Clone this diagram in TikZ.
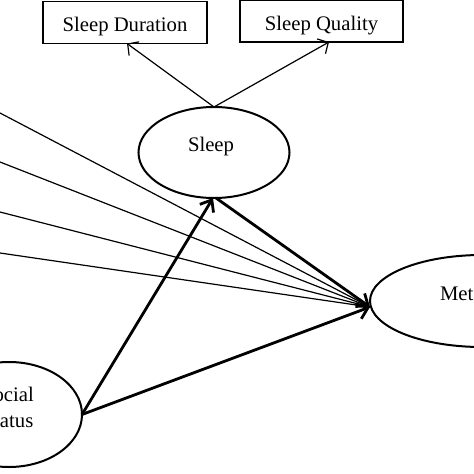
\documentclass[tikz,border=0pt]{standalone}
\usepackage{fontspec}
\setmainfont{Liberation Serif}
\usetikzlibrary{arrows.meta,calc,shapes.geometric}
\begin{document}
\begin{tikzpicture}[x=1pt,y=-1pt,
  txt/.style={font=\fontsize{20.7}{26}\selectfont, inner sep=0pt, anchor=base},
  obs/.style={draw, line width=1.5pt, minimum width=164pt, minimum height=42pt, inner sep=0pt, outer sep=0pt, text depth=0pt, font=\fontsize{20.7}{26}\selectfont},
  lat/.style={draw, ellipse, line width=2pt, inner sep=0pt, outer sep=0pt},
  load/.style={line width=1.2pt, -{Straight Barb[length=8pt,width=17pt,line width=1.2pt]}},
  thin/.style={line width=1.2pt},
  thick path/.style={line width=2.8pt, -{Straight Barb[length=10pt,width=16pt,line width=2.8pt]}}
]
\useasboundingbox (0,0) rectangle (474,474);
\clip (0,0) rectangle (474,474);
\fill[white] (0,0) rectangle (474,474);

% observed indicators
\node[obs, text height=17pt] (dur) at (125,22.5) {Sleep Duration};
\node[obs, minimum width=163pt, text height=18pt] (qual) at (321.5,21) {Sleep Quality};

% latent variables
\node[lat, minimum width=151pt, minimum height=91pt] (sleep) at (214,152.5) {};
\node[txt] (sleeplab) at (211,151.7) {Sleep};
\node[lat, minimum width=224pt, minimum height=92pt] (met) at (482,301) {};
\node[txt] (metlab) at (482,300) {Metabolic};
\node[lat, minimum width=146pt, minimum height=105pt] (soc) at (9,414.5) {};
\node[txt] (soclab1) at (8,401) {Social};
\node[txt] (soclab2) at (8,427) {Status};

% tips
\coordinate (mettip) at ($(met.west)+(0,6)$);
\coordinate (l1) at (0,113);
\coordinate (l2) at (0,162);
\coordinate (l3) at (0,212);
\coordinate (l4) at (0,253);

% thin paths from left
\foreach \c in {l1,l2,l3,l4} \draw[thin] (\c) -- (mettip);

% loadings
\draw[load] (sleep.north) -- ($(dur.south)+(2,0)$);
\draw[load] (sleep.north) -- ($(qual.south)+(7.5,0)$);

% structural paths
\draw[thick path] (soc.east) -- ($(sleep.south)+(-1,0)$);
\draw[thick path] (soc.east) -- (mettip);
\draw[thick path] ($(sleep.south)+(2,0)$) -- (mettip);
\end{tikzpicture}
\end{document}
